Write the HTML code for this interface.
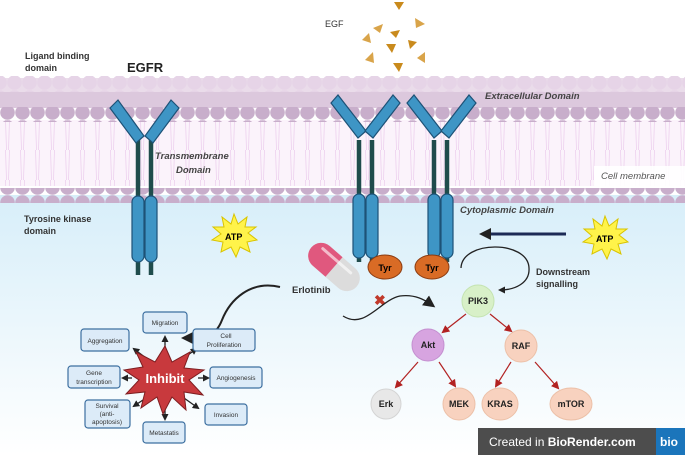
<!DOCTYPE html>
<html><head><meta charset="utf-8"><style>
html,body{margin:0;padding:0;background:#fff}
svg{display:block;font-family:"Liberation Sans",sans-serif}
</style></head><body>
<svg width="685" height="455" viewBox="0 0 685 455">
<defs>
<linearGradient id="cy" x1="0" y1="0" x2="0" y2="1">
<stop offset="0" stop-color="#d7eef9"/><stop offset="1" stop-color="#ffffff"/></linearGradient>
<pattern id="heads" x="0" y="0" width="15" height="15" patternUnits="userSpaceOnUse">
<circle cx="7.5" cy="7.5" r="7.3" fill="#c8aecb"/></pattern>
<pattern id="fheads" x="7" y="0" width="15" height="15" patternUnits="userSpaceOnUse">
<circle cx="7.5" cy="7.5" r="7.3" fill="#e6d4e7"/></pattern>
<pattern id="tails" x="0" y="0" width="15" height="30" patternUnits="userSpaceOnUse">
<path d="M5.5 0 Q6 15 6.5 30 M9.5 0 Q9 15 8.5 30" stroke="#edd0ee" stroke-width="0.8" fill="none"/></pattern>
<marker id="ar" markerWidth="8" markerHeight="8" refX="6" refY="4" orient="auto" markerUnits="userSpaceOnUse"><path d="M0 0 L8 4 L0 8z" fill="#b22222"/></marker>
<marker id="ak" markerWidth="7" markerHeight="7" refX="5" refY="3.5" orient="auto" markerUnits="userSpaceOnUse"><path d="M0 0 L7 3.5 L0 7z" fill="#222"/></marker>
<marker id="ab" markerWidth="12" markerHeight="12" refX="8" refY="6" orient="auto" markerUnits="userSpaceOnUse"><path d="M0 0 L12 6 L0 12z" fill="#222"/></marker>
</defs>
<rect x="0" y="195" width="685" height="260" fill="url(#cy)"/>
<!-- membrane -->
<rect x="0" y="78" width="685" height="30" fill="#eadcea"/>
<rect x="0" y="76" width="685" height="16" fill="url(#fheads)"/>
<rect x="0" y="120" width="685" height="66" fill="#fbf3fb"/>
<rect x="0" y="120" width="685" height="66" fill="url(#tails)"/>
<rect x="0" y="92" width="685" height="16" fill="#dcc8dd"/>
<rect x="0" y="107" width="685" height="15" fill="url(#heads)"/>
<rect x="0" y="188" width="685" height="15" fill="url(#heads)"/>
<rect x="594" y="166" width="91" height="22" fill="#fff" opacity="0.9"/>
<!-- receptors -->
<g stroke="#1f4c4c" stroke-width="4.5" fill="none">
<line x1="138" y1="140" x2="138" y2="275"/><line x1="151" y1="140" x2="151" y2="275"/>
<line x1="359" y1="140" x2="359" y2="262"/><line x1="372" y1="140" x2="372" y2="262"/>
<line x1="434" y1="140" x2="434" y2="262"/><line x1="447" y1="140" x2="447" y2="262"/>
</g>
<g fill="#3e95c5" stroke="#1d5277" stroke-width="1.2">
<path d="M110 108 l8 -8 l26 36 l-8 7z"/><path d="M179 108 l-8 -8 l-26 36 l8 7z"/>
<path d="M331 103 l7 -8 l28 36 l-8 7z"/><path d="M400 103 l-7 -8 l-28 36 l8 7z"/>
<path d="M407 103 l7 -8 l28 36 l-8 7z"/><path d="M476 103 l-7 -8 l-28 36 l8 7z"/>
<rect x="132" y="196" width="12" height="66" rx="6"/><rect x="145" y="196" width="12" height="66" rx="6"/>
<rect x="353" y="194" width="12" height="64" rx="6"/><rect x="366" y="194" width="12" height="64" rx="6"/>
<rect x="428" y="194" width="12" height="64" rx="6"/><rect x="441" y="194" width="12" height="64" rx="6"/>
</g>
<!-- EGF -->
<g fill="#c98a1c">
<path d="M394 2 l10 0 l-5 8z"/><path d="M373 28 l10 -4 l-3 9z" fill="#d9a44a"/><path d="M415 18 l10 6 l-9 4z" fill="#d9a44a"/>
<path d="M390 32 l10 -2 l-4 8z"/><path d="M362 40 l7 -7 l2 10z" fill="#d9a44a"/><path d="M386 44 l10 0 l-4 9z"/>
<path d="M408 40 l9 2 l-7 7z"/><path d="M365 60 l8 -8 l1 11z" fill="#d9a44a"/><path d="M417 58 l8 -6 l0 11z" fill="#d9a44a"/><path d="M393 63 l10 0 l-4 9z"/>
</g>
<!-- text labels -->
<g font-size="9" font-weight="bold" fill="#333">
<text x="25" y="59">Ligand binding</text><text x="25" y="71">domain</text>
<text x="24" y="222">Tyrosine kinase</text><text x="24" y="234">domain</text>
<text x="325" y="27" font-weight="normal">EGF</text>
</g>
<text x="127" y="72" font-size="13" font-weight="bold" fill="#222">EGFR</text>
<g font-size="9.5" font-style="italic" font-weight="bold" fill="#444">
<text x="155" y="159">Transmembrane</text><text x="176" y="173">Domain</text>
<text x="485" y="99">Extracellular Domain</text>
<text x="460" y="213">Cytoplasmic Domain</text>
</g>
<text x="601" y="179" font-size="9.5" font-style="italic" fill="#555">Cell membrane</text>
<!-- ATP -->
<g id="star">
<polygon fill="#fff34a" stroke="#d9c400" stroke-width="1" points="234,214 238,224 247,217 245,227 256,227 248,233 257,240 247,242 250,252 240,247 236,257 231,247 221,252 223,242 212,240 221,234 213,227 224,227 222,217 231,224"/>
</g>
<text x="225" y="240" font-size="9" font-weight="bold">ATP</text>
<use href="#star" transform="translate(371,2)"/>
<text x="596" y="242" font-size="9" font-weight="bold">ATP</text>
<line x1="566" y1="234" x2="483" y2="234" stroke="#1c2a55" stroke-width="3" marker-end="url(#ab)"/>
<!-- Tyr -->
<ellipse cx="385" cy="267" rx="17" ry="12" fill="#d96b25" stroke="#8a3b10"/>
<ellipse cx="432" cy="267" rx="17" ry="12" fill="#d96b25" stroke="#8a3b10"/>
<text x="385" y="271" font-size="9" font-weight="bold" text-anchor="middle">Tyr</text>
<text x="432" y="271" font-size="9" font-weight="bold" text-anchor="middle">Tyr</text>
<!-- pill -->
<g transform="translate(334,267) rotate(41)">
<rect x="-30" y="-13" width="60" height="26" rx="13" fill="#dcdcdc"/>
<path d="M-17 -13 h17 v26 h-17 a13 13 0 0 1 0 -26z" fill="#e0587e"/>
<rect x="-22" y="-8" width="40" height="3" rx="1.5" fill="#fff" opacity="0.6"/>
</g>
<text x="292" y="293" font-size="9.5" font-weight="bold" fill="#333">Erlotinib</text>
<text x="374" y="305" font-size="14" font-weight="bold" fill="#c0392b">✖</text>
<path d="M343 316 C365 330 380 300 400 296 C415 294 425 300 432 305" stroke="#222" stroke-width="1.3" fill="none" marker-end="url(#ab)"/>
<path d="M461 268 C462 240 528 240 529 268 C530 283 515 290 500 290" stroke="#222" stroke-width="1.3" fill="none" marker-end="url(#ak)"/>
<text x="536" y="275" font-size="9" font-weight="bold" fill="#333">Downstream</text>
<text x="536" y="287" font-size="9" font-weight="bold" fill="#333">signalling</text>
<!-- inhibit curve -->
<path d="M280 287 C250 280 230 300 222 320 C215 338 205 338 185 338" stroke="#222" stroke-width="2" fill="none" marker-end="url(#ab)"/>
<!-- nodes -->
<g font-size="9" font-weight="bold" text-anchor="middle" fill="#222">
<circle cx="478" cy="301" r="16" fill="#d8f0c8" stroke="#c4e3b0"/><text x="478" y="304">PIK3</text>
<circle cx="428" cy="345" r="16" fill="#d7a4e0" stroke="#c48fd0"/><text x="428" y="348">Akt</text>
<circle cx="521" cy="346" r="16" fill="#f8d2bf" stroke="#ecc0a8"/><text x="521" y="349">RAF</text>
<circle cx="386" cy="404" r="15" fill="#e8e8e8" stroke="#d4d4d4"/><text x="386" y="407">Erk</text>
<circle cx="459" cy="404" r="16" fill="#f8d2bf" stroke="#ecc0a8"/><text x="459" y="407">MEK</text>
<ellipse cx="500" cy="404" rx="18" ry="16" fill="#f8d2bf" stroke="#ecc0a8"/><text x="500" y="407">KRAS</text>
<ellipse cx="571" cy="404" rx="21" ry="16" fill="#f8d2bf" stroke="#ecc0a8"/><text x="571" y="407">mTOR</text>
</g>
<g stroke="#b22222" stroke-width="1.2" marker-end="url(#ar)">
<line x1="466" y1="314" x2="443" y2="332"/><line x1="490" y1="314" x2="511" y2="331"/>
<line x1="418" y1="362" x2="396" y2="387"/><line x1="439" y1="362" x2="455" y2="386"/>
<line x1="511" y1="362" x2="496" y2="386"/><line x1="535" y1="362" x2="558" y2="388"/>
</g>
<!-- inhibit -->
<g stroke="#222" stroke-width="1.3" marker-end="url(#ak)">
<line x1="165" y1="350" x2="165" y2="337"/><line x1="146" y1="358" x2="134" y2="349"/>
<line x1="184" y1="358" x2="196" y2="349"/><line x1="132" y1="378" x2="123" y2="378"/>
<line x1="198" y1="378" x2="208" y2="378"/><line x1="146" y1="398" x2="134" y2="406"/>
<line x1="184" y1="398" x2="198" y2="408"/><line x1="165" y1="405" x2="165" y2="419"/>
</g>
<polygon fill="#c8393d" stroke="#7d1d20" stroke-width="1" points="165,346 172,362 190,352 184,368 204,370 189,380 203,395 184,392 186,410 172,397 163,414 157,397 141,408 145,392 126,394 139,380 124,370 143,367 136,352 155,362"/>
<text x="165" y="383" font-size="13" font-weight="bold" fill="#fff" text-anchor="middle">Inhibit</text>
<g fill="#dcebf8" stroke="#3c6fa0" stroke-width="1.2">
<rect x="143" y="312" width="44" height="21" rx="3"/>
<rect x="81" y="329" width="48" height="22" rx="3"/>
<rect x="193" y="329" width="62" height="22" rx="3"/>
<rect x="68" y="366" width="52" height="22" rx="3"/>
<rect x="210" y="367" width="52" height="21" rx="3"/>
<rect x="85" y="400" width="45" height="28" rx="3"/>
<rect x="205" y="404" width="42" height="21" rx="3"/>
<rect x="143" y="422" width="42" height="21" rx="3"/>
</g>
<g font-size="6.5" fill="#333" text-anchor="middle">
<text x="165" y="325">Migration</text>
<text x="105" y="343">Aggregation</text>
<text x="226" y="338">Cell</text><text x="224" y="347">Proliferation</text>
<text x="94" y="375">Gene</text><text x="94" y="384">transcription</text>
<text x="236" y="380">Angiogenesis</text>
<text x="107" y="408">Survival</text><text x="107" y="416">(anti-</text><text x="107" y="424">apoptosis)</text>
<text x="226" y="417">Invasion</text>
<text x="164" y="435">Metastatis</text>
</g>
<!-- watermark -->
<rect x="478" y="428" width="178" height="27" fill="#4d4d4d"/>
<rect x="656" y="428" width="29" height="27" fill="#1b75bb"/>
<text x="489" y="446" font-size="12" fill="#fff">Created in <tspan font-weight="bold">BioRender.com</tspan></text>
<text x="660" y="446" font-size="12" font-weight="bold" fill="#fff">bio</text>
</svg>
</body></html>
